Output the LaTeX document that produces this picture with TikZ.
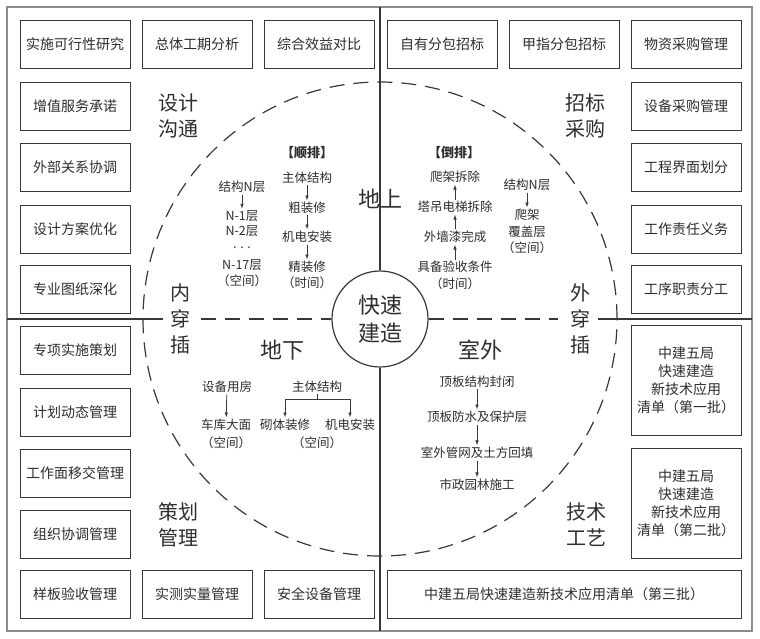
\documentclass[tikz,border=0pt]{standalone}
\usepackage{fontspec}
\setmainfont{Noto Sans CJK SC}
\usetikzlibrary{arrows.meta}
\definecolor{ln}{gray}{0.22}
\definecolor{fr}{gray}{0.55}
\definecolor{tx}{gray}{0.18}
\tikzset{
 box/.style={draw=ln, line width=1.0pt, minimum width=110pt, minimum height=48pt, inner sep=0pt, text=tx, font=\fontsize{14}{18}\selectfont, align=center},
 tallbox/.style={box, minimum height=110pt},
 widebox/.style={box, minimum width=354pt},
 big/.style={text=tx, font=\fontsize{20}{26}\selectfont, align=center, inner sep=0pt},
 mid/.style={text=tx, font=\fontsize{22}{28}\selectfont, align=center, inner sep=0pt},
 sm/.style={text=tx, font=\fontsize{12.5}{15}\selectfont, align=center, inner sep=1.5pt},
 arr/.style={-{Latex[length=5pt,width=3.5pt]}, line width=0.8pt, draw=ln},
 plain/.style={line width=0.8pt, draw=ln},
 divl/.style={draw=ln, line width=1.2pt},
 dsh/.style={draw=ln, line width=1.2pt, dash pattern=on 15pt off 9pt},
}
\begin{document}
\begin{tikzpicture}[x=1pt,y=-1pt]
\fill[white] (0,0) rectangle (760,638);
\path[use as bounding box] (0,0) rectangle (760,638);
% outer frame
\draw[fr, line width=1.5pt] (7,7) rectangle (752,631);
% big dashed circle
\draw[dsh] (380,319) circle [radius=237pt];
% core
\node[circle, draw=ln, line width=1.2pt, fill=white, minimum size=96pt, inner sep=0pt, text=tx, font=\fontsize{22}{28}\selectfont, align=center] (core) at (380,319) {快速\\建造};
% dividing lines
\coordinate (vt) at (380,7);
\coordinate (vb) at (380,631);
\coordinate (hl1) at (7,319);
\coordinate (hl2) at (163,319);
\coordinate (hl3) at (201,319);
\coordinate (hr1) at (558,319);
\coordinate (hr2) at (598,319);
\coordinate (hr3) at (752,319);
\draw[divl] (vt) -- (core.north);
\draw[divl] (core.south) -- (vb);
\draw[divl] (hl1) -- (hl2);
\draw[dsh] (hl3) -- (core.west);
\draw[dsh] (core.east) -- (hr1);
\draw[divl] (hr2) -- (hr3);
% top row
\node[box] (t1) at (75,44) {实施可行性研究};
\node[box] (t2) at (197,44) {总体工期分析};
\node[box] (t3) at (319,44) {综合效益对比};
\node[box] (t4) at (442,44) {自有分包招标};
\node[box] (t5) at (564,44) {甲指分包招标};
\node[box] (t6) at (686,44) {物资采购管理};
% left column
\node[box] (l2) at (75,106) {增值服务承诺};
\node[box] (l3) at (75,167) {外部关系协调};
\node[box] (l4) at (75,229) {设计方案优化};
\node[box] (l5) at (75,289) {专业图纸深化};
\node[box] (l6) at (75,350) {专项实施策划};
\node[box] (l7) at (75,412) {计划动态管理};
\node[box] (l8) at (75,473) {工作面移交管理};
\node[box] (l9) at (75,534) {组织协调管理};
% right column
\node[box] (r2) at (686,106) {设备采购管理};
\node[box] (r3) at (686,167) {工程界面划分};
\node[box] (r4) at (686,229) {工作责任义务};
\node[box] (r5) at (686,289) {工序职责分工};
\node[tallbox] (r6) at (686,380) {中建五局\\快速建造\\新技术应用\\清单（第一批）};
\node[tallbox] (r7) at (686,503) {中建五局\\快速建造\\新技术应用\\清单（第二批）};
% bottom row
\node[box] (b1) at (75,594) {样板验收管理};
\node[box] (b2) at (197,594) {实测实量管理};
\node[box] (b3) at (319,594) {安全设备管理};
\node[widebox] (b4) at (564,594) {中建五局快速建造新技术应用清单（第三批）};
% quadrant labels
\node[big] (q1) at (178,116) {设计\\沟通};
\node[big] (q2) at (585,116) {招标\\采购};
\node[big] (q3) at (178,525) {策划\\管理};
\node[big] (q4) at (586,525) {技术\\工艺};
\node[big] (nc) at (180,319) {内\\穿\\插};
\node[big] (wc) at (580,319) {外\\穿\\插};
\node[mid] (ds) at (380,199) {地上};
\node[mid] (dx) at (282,350) {地下};
\node[mid] (sw) at (480,350) {室外};
% top-left: 顺排
\node[sm, font=\fontsize{13}{15}\selectfont\bfseries] (sp) at (307,153) {【顺排】};
\node[sm] (a1) at (307,178) {主体结构};
\node[sm] (a2) at (307,208) {粗装修};
\node[sm] (a3) at (307,237) {机电安装};
\node[sm] (a4) at (307,267) {精装修};
\node[sm] (a5) at (307,283) {（时间）};
\draw[arr] (a1) -- (a2);
\draw[arr] (a2) -- (a3);
\draw[arr] (a3) -- (a4);
\node[sm] (n1) at (242,187) {结构N层};
\node[sm] (n2) at (242,216) {N-1层};
\node[sm] (n3) at (242,231) {N-2层};
\node[sm] (n4) at (242,248) {. . .};
\node[sm] (n5) at (242,265) {N-17层};
\node[sm] (n6) at (242,281) {（空间）};
\draw[arr] (n1) -- (n2);
% top-right: 倒排
\node[sm, font=\fontsize{13}{15}\selectfont\bfseries] (dp) at (454,153) {【倒排】};
\node[sm] (c1) at (455,177) {爬架拆除};
\node[sm] (c2) at (455,207) {塔吊电梯拆除};
\node[sm] (c3) at (455,237) {外墙漆完成};
\node[sm] (c4) at (455,267) {具备验收条件};
\node[sm] (c5) at (455,284) {（时间）};
\draw[arr] (c4) -- (c3);
\draw[arr] (c3) -- (c2);
\draw[arr] (c2) -- (c1);
\node[sm] (m1) at (527,185) {结构N层};
\node[sm] (m2) at (527,215) {爬架};
\node[sm] (m3) at (527,232) {覆盖层};
\node[sm] (m4) at (527,248) {（空间）};
\draw[arr] (m1) -- (m2);
% bottom-left: 地下
\node[sm] (e1) at (227,387) {设备用房};
\node[sm] (e2) at (226,425) {车库大面};
\node[sm] (e3) at (226,443) {（空间）};
\draw[arr] (e1) -- (e2);
\node[sm] (f1) at (317,387) {主体结构};
\node[sm] (f2) at (285,425) {砌体装修};
\node[sm] (f3) at (350,425) {机电安装};
\node[sm] (f4) at (317,443) {（空间）};
\coordinate (fb) at (317,399);
\draw[plain] (f1) -- (fb);
\draw[arr] (fb) -| (f2);
\draw[arr] (fb) -| (f3);
% bottom-right: 室外
\node[sm] (g1) at (477,382) {顶板结构封闭};
\node[sm] (g2) at (477,417) {顶板防水及保护层};
\node[sm] (g3) at (477,453) {室外管网及土方回填};
\node[sm] (g4) at (477,485) {市政园林施工};
\draw[arr] (g1) -- (g2);
\draw[arr] (g2) -- (g3);
\draw[arr] (g3) -- (g4);
\end{tikzpicture}
\end{document}
